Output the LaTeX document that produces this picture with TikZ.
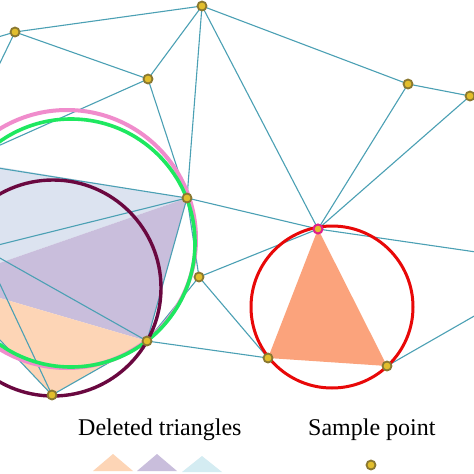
\documentclass[tikz,border=0pt]{standalone}
\usepackage{fontspec}
\setmainfont{Liberation Serif}
\definecolor{edgec}{HTML}{4BA0B4}
\definecolor{lblue}{HTML}{DCE3F0}
\definecolor{lpurp}{HTML}{C9BEDC}
\definecolor{lorng}{HTML}{FDD5B6}
\definecolor{redtri}{HTML}{FBA37C}
\definecolor{pinkc}{HTML}{F08CCC}
\definecolor{greenc}{HTML}{1EE860}
\definecolor{maroonc}{HTML}{6A0840}
\definecolor{redc}{HTML}{E80808}
\definecolor{dotring}{HTML}{8A7830}
\definecolor{dotfill}{HTML}{E2BE2C}
\definecolor{magc}{HTML}{E0208C}
\definecolor{legcyan}{HTML}{D4ECF2}
\begin{document}
\begin{tikzpicture}[x=1pt,y=-1pt,
  edge/.style={draw=edgec,line width=1.1pt},
  ptdot/.style={circle,draw=dotring,fill=dotfill,line width=1.8pt,minimum size=9pt,inner sep=0pt},
  sampdot/.style={circle,draw=magc,fill=dotfill,line width=2pt,minimum size=9pt,inner sep=0pt},
  legtext/.style={font=\fontsize{24}{28}\selectfont,anchor=base west,inner sep=0pt}]
\useasboundingbox (0,0) rectangle (474,474);
\fill[white] (0,0) rectangle (474,474);
% vertices
\coordinate (P1) at (202,6);
\coordinate (P2) at (15,32);
\coordinate (P3) at (148,79);
\coordinate (P4) at (408,84);
\coordinate (P5) at (470,96);
\coordinate (P6) at (187,198);
\coordinate (P7) at (318,229);
\coordinate (P8) at (199,277);
\coordinate (P9) at (268,358);
\coordinate (P10) at (387,366);
\coordinate (P11) at (147,341);
\coordinate (P12) at (52,395);
\coordinate (V) at (-55,282);
\coordinate (W) at (-55,158);
% free ends
\coordinate (E1) at (-2,37);
\coordinate (E2) at (-2,67);
\coordinate (E3) at (-2,146);
\coordinate (E4) at (-2,168);
\coordinate (E5) at (-2,245);
\coordinate (E6) at (-2,257);
\coordinate (E7) at (-2,280);
\coordinate (E9) at (476,252);
\coordinate (E10) at (476,315);
\begin{scope}
\clip (0,0) rectangle (474,474);
% deleted triangles
\fill[lblue] (P6) -- (W) -- (V) -- cycle;
\fill[lpurp] (P6) -- (V) -- (P11) -- cycle;
\fill[lorng] (P11) -- (V) -- (P12) -- cycle;
% new triangle
\fill[redtri] (P7) -- (P9) -- (P10) -- cycle;
% edges
\draw[edge] (P2) -- (P1);
\draw[edge] (P2) -- (P3);
\draw[edge] (P1) -- (P3);
\draw[edge] (P1) -- (P6);
\draw[edge] (P1) -- (P7);
\draw[edge] (P1) -- (P4);
\draw[edge] (P4) -- (P5);
\draw[edge] (P4) -- (P7);
\draw[edge] (P5) -- (P7);
\draw[edge] (P3) -- (P6);
\draw[edge] (P6) -- (P7);
\draw[edge] (P6) -- (P8);
\draw[edge] (P6) -- (P11);
\draw[edge] (P8) -- (P7);
\draw[edge] (P8) -- (P9);
\draw[edge] (P8) -- (P11);
\draw[edge] (P11) -- (P9);
\draw[edge] (P11) -- (P12);
\draw[edge] (V) -- (P12);
\draw[edge] (E1) -- (P2);
\draw[edge] (E2) -- (P2);
\draw[edge] (E3) -- (P3);
\draw[edge] (E4) -- (P6);
\draw[edge] (E5) -- (P6);
\draw[edge] (E6) -- (P11);
\draw[edge] (E7) -- (P12);
\draw[edge] (P7) -- (E9);
\draw[edge] (P10) -- (E10);
% circles
\draw[pinkc,line width=4pt] (67,239) circle[radius=129pt];
\draw[greenc,line width=3.6pt] (71,243) circle[radius=124pt];
\draw[maroonc,line width=3.4pt] (53,288) circle[radius=108pt];
\draw[redc,line width=3pt] (332,307) circle[radius=81pt];
\end{scope}
% points
\foreach \p in {P1,P2,P3,P4,P5,P6,P8,P9,P10,P11,P12}
  \node[ptdot] (d\p) at (\p) {};
\node[sampdot] (dP7) at (P7) {};
% legend
\node[legtext] (lt1) at (78,435) {Deleted triangles};
\node[legtext] (lt2) at (308,435) {Sample point};
\fill[lorng] (93,471) -- (113,454) -- (133,471) -- cycle;
\fill[lpurp] (137,471) -- (157,454) -- (177,471) -- cycle;
\fill[legcyan] (182,472) -- (202,456) -- (222,472) -- cycle;
\node[ptdot] (legdot) at (371,465) {};
\end{tikzpicture}
\end{document}
